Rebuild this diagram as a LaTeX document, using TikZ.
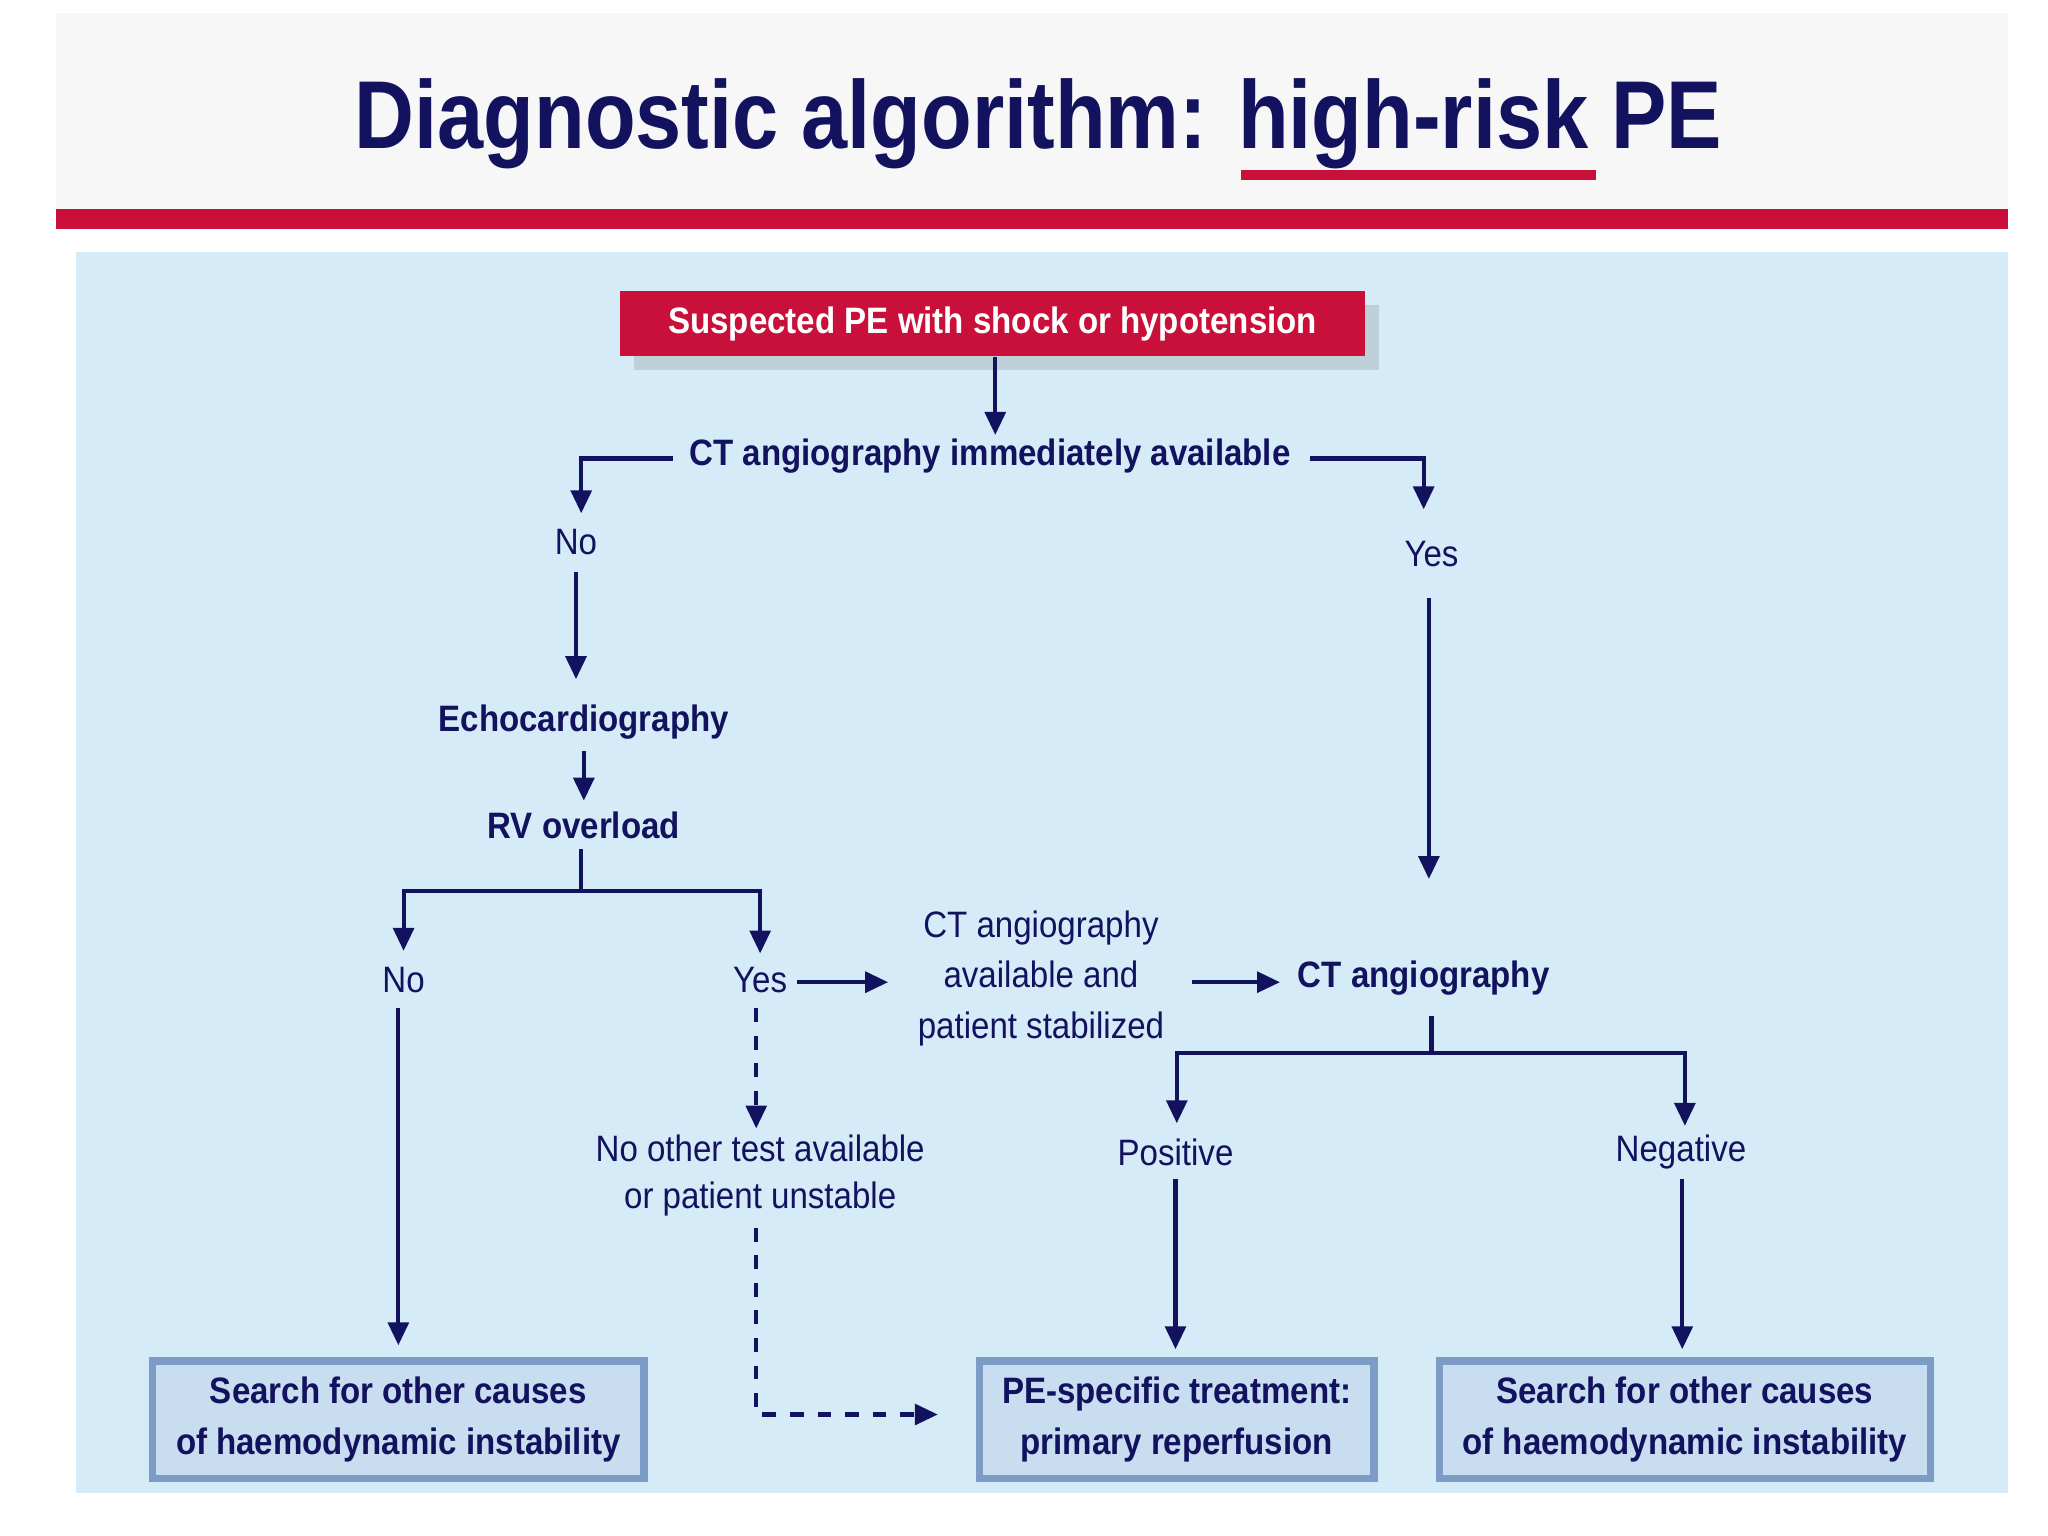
\documentclass[tikz,border=0pt]{standalone}
\usepackage{fontspec}
\setmainfont{Liberation Sans}
\usetikzlibrary{arrows.meta,shadows}
\definecolor{navy}{HTML}{12125E}
\definecolor{pered}{HTML}{C8103A}
\definecolor{bgblue}{HTML}{D5ECF8}
\definecolor{boxfill}{HTML}{C9DDF0}
\definecolor{boxline}{HTML}{7C9CC6}
\newcommand{\nar}[1]{\scalebox{0.9}[1]{#1}}
\begin{document}
\begin{tikzpicture}[x=0.01cm,y=-0.01cm,
  lbl/.style={text=navy,font=\fontsize{8}{10}\selectfont,align=center,inner sep=1pt},
  blbl/.style={lbl,font=\fontsize{8}{10}\selectfont\bfseries},
  con/.style={draw=navy,line width=0.9pt},
  arr/.style={con,-{Triangle[length=5pt,width=4.5pt]}},
  box/.style={draw=boxline,fill=boxfill,line width=1.6pt,minimum width=3.76cm,minimum height=0.9cm,text=navy,align=center,inner xsep=1pt,font=\fontsize{8}{11}\selectfont\bfseries}]
\useasboundingbox (0,0) rectangle (1568,1176);
\fill[white] (0,0) rectangle (1568,1176);
\fill[gray!6] (43,10) rectangle (1537,160);
\fill[pered] (43,160) rectangle (1537,175);
\fill[bgblue] (58,193) rectangle (1537,1143);
\node[text=navy,font=\fontsize{21}{24}\selectfont\bfseries] (title) at (795,95) {\scalebox{0.86}[1]{Diagnostic algorithm: high-risk PE}};
\draw[pered,line width=2pt] (950,134) -- (1222,134);
\node[fill=pered,text=white,minimum width=5.7cm,minimum height=0.48cm,font=\fontsize{8}{10}\selectfont\bfseries,drop shadow={opacity=0.25,shadow xshift=3pt,shadow yshift=-3pt}] (start) at (760,248) {\nar{Suspected PE with shock or hypotension}};
\node[blbl] (cta) at (758,349) {\nar{CT angiography immediately available}};
\node[lbl] (no1) at (441,415) {\nar{No}};
\node[lbl] (yes1) at (1096,424) {\nar{Yes}};
\node[blbl] (echo) at (447,553) {\nar{Echocardiography}};
\node[blbl] (rv) at (447,632) {\nar{RV overload}};
\node[lbl] (no2) at (309,750) {\nar{No}};
\node[lbl] (yes2) at (582,750) {\nar{Yes}};
\node[lbl,font=\fontsize{8}{11}\selectfont] (stab) at (797,749) {\nar{CT angiography}\\\nar{available and}\\\nar{patient stabilized}};
\node[blbl] (ct) at (1090,749) {\nar{CT angiography}};
\node[lbl] (pos) at (900,882) {\nar{Positive}};
\node[lbl] (neg) at (1287,882) {\nar{Negative}};
\node[lbl,font=\fontsize{8}{10.3}\selectfont] (unst) at (582,900) {\nar{No other test available}\\\nar{or patient unstable}};
\node[box] (b1) at (305,1087) {\nar{Search for other causes}\\\nar{of haemodynamic instability}};
\node[box,minimum width=3.02cm] (b2) at (901,1087) {\nar{PE-specific treatment:}\\\nar{primary reperfusion}};
\node[box] (b3) at (1290,1087) {\nar{Search for other causes}\\\nar{of haemodynamic instability}};
% connectors
\draw[arr] (762,273) -- (762,333);
\draw[arr] (515,351) -- (445,351) -- (445,393);
\draw[arr] (1003,351) -- (1090,351) -- (1090,390);
\draw[arr] (441,438) -- (441,520);
\draw[arr] (447,575) -- (447,613);
\draw[con] (445,650) -- (445,682);
\draw[arr] (445,682) -- (309,682) -- (309,728);
\draw[arr] (445,682) -- (582,682) -- (582,730);
\draw[arr] (610,752) -- (680,752);
\draw[arr] (913,752) -- (980,752);
\draw[arr] (1094,458) -- (1094,673);
\draw[con] (1096,778) -- (1096,806);
\draw[arr] (1096,806) -- (901,806) -- (901,860);
\draw[arr] (1096,806) -- (1290,806) -- (1290,862);
\draw[arr] (900,903) -- (900,1033);
\draw[arr] (1288,903) -- (1288,1033);
\draw[arr] (305,772) -- (305,1030);
\draw[arr,dashed] (579,772) -- (579,864);
\draw[arr,dashed] (579,940) -- (579,1083) -- (718,1083);
\end{tikzpicture}
\end{document}
